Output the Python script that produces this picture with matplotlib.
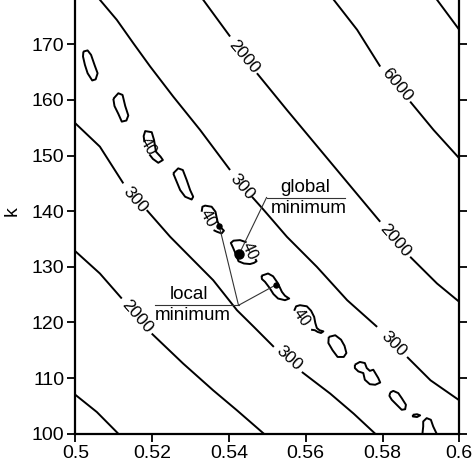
import matplotlib
matplotlib.use('Agg')
import matplotlib.pyplot as plt

plt.rcParams['font.family'] = ['Liberation Sans', 'DejaVu Sans']

# ---------------- data (x = parameter, k) ----------------
# level 6000, lower-left corner
c6000_low = [(0.5, 107.0), (0.5056, 103.9), (0.5112, 100.0)]
# level 2000, left line (split by label)
c2000_left_a = [(0.5, 132.8), (0.5064, 128.8), (0.5121, 124.3)]
c2000_left_b = [(0.5199, 118.0), (0.5281, 112.6), (0.5359, 107.8), (0.5421, 104.2), (0.5491, 100.0)]
# level 300, left line (split by two labels)
c300_left_a = [(0.5, 155.8), (0.5064, 151.6), (0.5125, 145.0)]
c300_left_b = [(0.5186, 140.2), (0.5247, 135.4), (0.5290, 132.4), (0.5359, 127.6),
               (0.5421, 122.2), (0.5465, 119.2), (0.5517, 115.6)]
c300_left_c = [(0.5590, 111.1), (0.5664, 107.2), (0.5725, 103.6), (0.5781, 100.0)]
# level 300, right line
c300_right_a = [(0.5040, 180.0), (0.5064, 178.0), (0.5108, 174.4), (0.5151, 170.2), (0.5195, 166.0),
                (0.5255, 160.6), (0.5325, 154.6), (0.5403, 147.4)]
c300_right_b = [(0.5460, 142.6), (0.5491, 140.2), (0.5551, 135.4), (0.5629, 130.0),
                (0.5708, 124.0), (0.5786, 119.2)]
c300_right_c = [(0.5864, 113.8), (0.5925, 109.6), (0.6, 106.0)]
# level 2000, right line
c2000_right_a = [(0.5312, 180.0), (0.5333, 178.0), (0.5403, 171.4)]
c2000_right_b = [(0.5473, 164.8), (0.5551, 158.2), (0.5638, 151.0), (0.5725, 143.8), (0.5794, 138.1)]
c2000_right_c = [(0.5872, 131.8), (0.5942, 127.0), (0.6, 123.7)]
# level 6000, right line
c6000_right_a = [(0.5650, 180.0), (0.5673, 178.0), (0.5734, 172.6), (0.5794, 166.0)]
c6000_right_b = [(0.5872, 159.7), (0.5933, 154.6), (0.6, 149.5)]
# unlabeled line in the top-right corner
c_corner_tr = [(0.5920, 180.0), (0.5942, 178.0), (0.6, 172.6)]

# level 40 islands along the valley
isl_a = [(0.5021, 168.7), (0.5032, 168.9), (0.5041, 168.1), (0.5050, 166.3), (0.5058, 164.8),
         (0.5053, 163.7), (0.5044, 163.5), (0.5032, 164.8), (0.5025, 166.3), (0.5020, 167.8), (0.5021, 168.7)]
isl_b = [(0.5099, 160.2), (0.5112, 161.2), (0.5123, 160.9), (0.5130, 158.9), (0.5138, 157.2),
         (0.5133, 156.3), (0.5121, 156.1), (0.5112, 157.5), (0.5102, 158.9), (0.5099, 160.2)]
isl_c = [(0.5180, 152.4), (0.5178, 153.5), (0.5182, 154.4), (0.5199, 154.2), (0.5205, 152.8),
         (0.5210, 150.7), (0.5222, 149.8), (0.5228, 149.2), (0.5216, 148.7), (0.5202, 149.4), (0.5193, 150.2)]
isl_d = [(0.5255, 146.8), (0.5268, 147.7), (0.5280, 147.4), (0.5290, 145.6), (0.5299, 143.8),
         (0.5307, 142.6), (0.5303, 142.1), (0.5286, 142.6), (0.5273, 143.8), (0.5264, 145.3), (0.5255, 146.8)]
isl_e = [(0.5329, 139.9), (0.5331, 140.8), (0.5338, 141.0), (0.5355, 140.8), (0.5365, 139.9),
         (0.5370, 138.2), (0.5377, 137.2), (0.5387, 136.5), (0.5381, 136.0), (0.5369, 136.3), (0.5360, 136.6)]
isl_f = [(0.5446, 134.4), (0.5429, 134.8), (0.5412, 134.7), (0.5405, 134.3), (0.5411, 133.4),
         (0.5419, 132.1), (0.5425, 131.0), (0.5439, 130.6), (0.5455, 130.5), (0.5465, 130.7),
         (0.5472, 131.0), (0.5469, 131.4)]
isl_g = [(0.5485, 128.4), (0.5502, 128.8), (0.5515, 128.3), (0.5527, 127.1), (0.5538, 125.5),
         (0.5546, 124.8), (0.5557, 124.3), (0.5546, 124.0), (0.5528, 124.3), (0.5516, 125.1),
         (0.5506, 126.2), (0.5494, 127.3), (0.5486, 127.8), (0.5485, 128.4)]
isl_h = [(0.5570, 122.1), (0.5575, 122.9), (0.5585, 123.1), (0.5603, 122.9), (0.5614, 122.1),
         (0.5622, 121.0), (0.5625, 119.9), (0.5629, 119.0), (0.5636, 118.6), (0.5646, 118.4),
         (0.5640, 118.1), (0.5631, 118.3), (0.5624, 118.6), (0.5614, 118.7)]
isl_i = [(0.5660, 117.4), (0.5677, 117.7), (0.5692, 116.9), (0.5701, 115.8), (0.5706, 114.5),
         (0.5699, 113.8), (0.5683, 113.8), (0.5670, 115.0), (0.5659, 116.3), (0.5660, 117.4)]
isl_j = [(0.5728, 112.4), (0.5741, 112.9), (0.5754, 112.7), (0.5759, 111.8), (0.5767, 111.3),
         (0.5776, 111.5), (0.5789, 110.0), (0.5794, 109.2), (0.5781, 108.8), (0.5767, 108.9),
         (0.5754, 109.7), (0.5750, 110.9), (0.5737, 111.2), (0.5728, 111.8), (0.5728, 112.4)]
isl_k = [(0.5820, 107.4), (0.5828, 107.7), (0.5841, 107.3), (0.5850, 106.4), (0.5861, 105.2),
         (0.5859, 104.4), (0.5850, 104.3), (0.5837, 105.2), (0.5824, 106.1), (0.5818, 106.8), (0.5820, 107.4)]
isl_l = [(0.5879, 103.4), (0.5890, 103.5), (0.5898, 103.3), (0.5890, 103.0), (0.5879, 103.1), (0.5879, 103.4)]
isl_m = [(0.5904, 100.0), (0.5906, 101.3), (0.5906, 102.2), (0.5915, 102.8), (0.5926, 102.5),
         (0.5932, 101.3), (0.5941, 100.0)]

contour_pieces = [c6000_low, c2000_left_a, c2000_left_b, c300_left_a, c300_left_b, c300_left_c,
                  c300_right_a, c300_right_b, c300_right_c, c2000_right_a, c2000_right_b,
                  c2000_right_c, c6000_right_a, c6000_right_b, c_corner_tr,
                  isl_a, isl_b, isl_c, isl_d, isl_e, isl_f, isl_g, isl_h, isl_i, isl_j,
                  isl_k, isl_l, isl_m]

# contour labels: text, x, k, rotation (deg)
clabel_text = ['2000', '300', '300', '300', '300', '2000', '2000', '6000', '40', '40', '40', '40']
clabel_x = [0.5160, 0.5156, 0.5556, 0.5434, 0.5829, 0.5439, 0.5833, 0.5838, 0.5188, 0.5346, 0.5454, 0.5589]
clabel_k = [121.0, 142.0, 113.5, 144.4, 116.2, 167.8, 134.8, 162.7, 151.6, 138.6, 132.8, 120.8]
clabel_rot = [-49, -49, -42, -49, -45, -50, -49, -50, -60, -60, -65, -55]

# minima
global_min = (0.5427, 132.34)
local_min_x = [0.5375, 0.5523]
local_min_k = [137.28, 126.78]

x_ticks = [0.5, 0.52, 0.54, 0.56, 0.58, 0.6]
x_ticklabels = ['0.5', '0.52', '0.54', '0.56', '0.58', '0.6']
y_ticks = [100, 110, 120, 130, 140, 150, 160, 170]

# ---------------- figure ----------------
fig = plt.figure(figsize=(4.74, 4.74), dpi=100)
ax = fig.add_axes([0.1589, 0.085, 0.8101, 0.9389])
ax.set_xlim(0.5, 0.6)
ax.set_ylim(100, 180)

for piece in contour_pieces:
    xs = [p[0] for p in piece]
    ks = [p[1] for p in piece]
    ax.plot(xs, ks, color='black', lw=1.4, solid_joinstyle='round', solid_capstyle='butt')

for t, x, k, r in zip(clabel_text, clabel_x, clabel_k, clabel_rot):
    fs = 11.5 if t == '40' else 12.5
    ax.text(x, k, t, rotation=r, rotation_mode='anchor', ha='center', va='center',
            fontsize=fs, color='black', zorder=3)

# annotations
g_line_x = [0.5498, 0.5702]
g_line_k = [142.46, 142.46]
l_line_x = [0.5208, 0.5425]
l_line_k = [123.08, 123.08]
lead_col = '#333333'
ax.plot(g_line_x, g_line_k, color=lead_col, lw=0.8, zorder=4)
ax.plot([g_line_x[0], global_min[0]], [g_line_k[0], global_min[1]], color=lead_col, lw=0.8, zorder=4)
ax.plot(l_line_x, l_line_k, color=lead_col, lw=0.8, zorder=4)
for lx, lk in zip(local_min_x, local_min_k):
    ax.plot([l_line_x[1], lx], [l_line_k[1], lk], color=lead_col, lw=0.8, zorder=4)

ax.text(0.5599, 144.2, 'global', ha='center', va='center', fontsize=13.5)
ax.text(0.5608, 140.5, 'minimum', ha='center', va='center', fontsize=13.5)
ax.text(0.5297, 125.1, 'local', ha='center', va='center', fontsize=13.5)
ax.text(0.5305, 121.25, 'minimum', ha='center', va='center', fontsize=13.5)

ax.plot([global_min[0]], [global_min[1]], 'o', color='black', ms=6.5, zorder=5)
ax.plot(local_min_x, local_min_k, 'o', color='black', ms=3.6, ls='none', zorder=5)

ax.set_xticks(x_ticks)
ax.set_xticklabels(x_ticklabels)
ax.set_yticks(y_ticks)
ax.tick_params(axis='both', direction='out', length=6, width=1.3, labelsize=14, pad=2)
ax.tick_params(axis='y', right=True, labelright=False)
ax.tick_params(axis='x', top=True, labeltop=False)
for s in ax.spines.values():
    s.set_linewidth(1.6)
ax.set_ylabel('k', fontsize=14, labelpad=8)

fig.savefig('out.png', dpi=100)
